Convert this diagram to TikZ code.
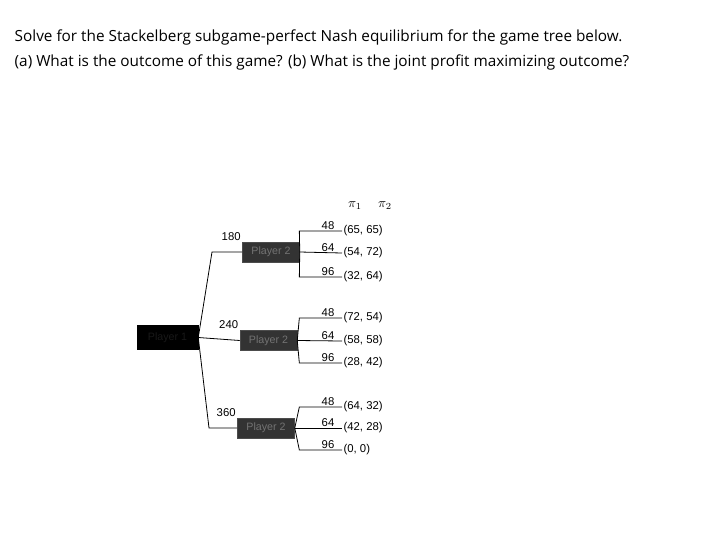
\documentclass[tikz,border=0pt]{standalone}
\usepackage{fontspec}
\setmainfont{Open Sans}
\newfontfamily\arialf{Liberation Sans}
\begin{document}
\begin{tikzpicture}[x=0.75pt,y=-0.75pt,
  p2/.style={draw=black!70,fill=black!80,text=black!55,font=\arialf\fontsize{8}{9}\selectfont,inner sep=0pt,minimum width=57pt*0.75,minimum height=20pt*0.75},
  lab/.style={font=\arialf\fontsize{8.5}{10}\selectfont,inner sep=1pt},
  ln/.style={line width=0.6pt}]
\useasboundingbox (0,0) rectangle (703,550);
\node[anchor=west,font=\fontsize{11.5}{14}\selectfont] (t1) at (10,37) {Solve for the Stackelberg subgame-perfect Nash equilibrium for the game tree below.};
\node[anchor=west,font=\fontsize{11.5}{14}\selectfont] (t2) at (10,62) {(a) What is the outcome of this game? (b) What is the joint profit maximizing outcome?};
\node[fill=black,draw=black,minimum width=61pt*0.75,minimum height=24pt*0.75,inner sep=0pt,text=black!90,font=\arialf\fontsize{8}{9}\selectfont] (p1) at (167.5,337.5) {Player 1};
\node[p2] (a) at (271,252) {Player 2};
\node[p2] (b) at (268.5,340.5) {Player 2};
\node[p2] (c) at (266,428) {Player 2};
\coordinate (ak) at (212,252);
\coordinate (ck) at (209,428);
\draw[ln] (p1.east) -- (ak) -- (a.west);
\draw[ln] (p1.east) -- (b.west);
\draw[ln] (p1.east) -- (ck) -- (c.west);
\node[lab,anchor=south east] at (a.north west) {180};
\node[lab,anchor=south east] at (b.north west) {240};
\node[lab,anchor=south east] at (c.north west) {360};
\node[font=\fontsize{10}{12}\selectfont] at (355,206) {$\pi_1$};
\node[font=\fontsize{10}{12}\selectfont] at (385,206) {$\pi_2$};
% branches
\foreach \n/\ya/\yb/\yc/\pa/\pb/\pc in {a/231/253/277/{(65, 65)}/{(54, 72)}/{(32, 64)},b/318/341/363/{(72, 54)}/{(58, 58)}/{(28, 42)},c/407/428/450/{(64, 32)}/{(42, 28)}/{(0, 0)}}{
  \coordinate (\n1) at (342,\ya);
  \coordinate (\n2) at (342,\yb);
  \coordinate (\n3) at (342,\yc);
  \draw[ln] (\n.east) -- ([xshift=-32]\n1) -- (\n1);
  \draw[ln] (\n.east) -- (\n2);
  \draw[ln] (\n.east) -- ([xshift=-32]\n3) -- (\n3);
  \node[lab,anchor=south] at (328,\ya) {48};
  \node[lab,anchor=south] at (328,\yb) {64};
  \node[lab,anchor=south] at (328,\yc) {96};
  \node[lab,anchor=west] at (342,\ya) {\pa};
  \node[lab,anchor=west] at (342,\yb) {\pb};
  \node[lab,anchor=west] at (342,\yc) {\pc};
}
\end{tikzpicture}
\end{document}
